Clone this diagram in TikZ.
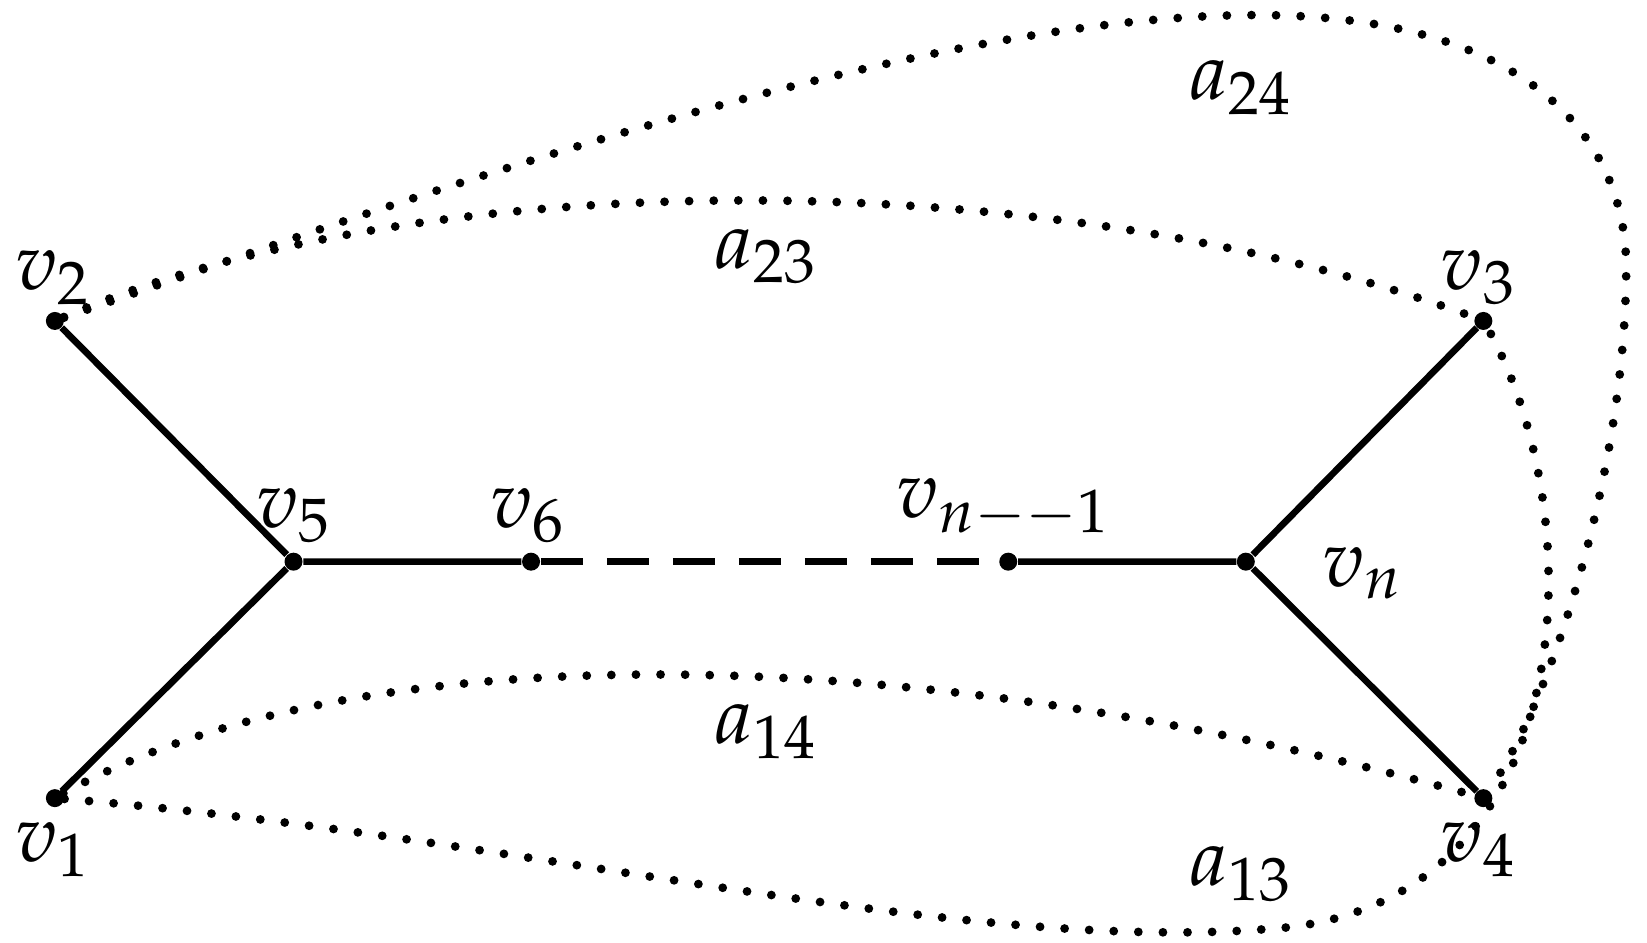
\documentclass[tikz,border=0pt]{standalone}
\usepackage{mathpazo}
\begin{document}
\begin{tikzpicture}[scale=1.0558,
  vtx/.style={circle,fill=black,inner sep=0pt,minimum size=0.18cm},
  edge/.style={line width=1.9pt},
  dotline/.style={line width=2.5pt,line cap=round,dash pattern=on 0pt off 7pt},
  lbl/.style={font=\fontsize{23}{27}\selectfont}]
\useasboundingbox (0,0) rectangle (15.6,8.93);
\node[vtx] (v2) at (0.52,5.89) {};
\node[vtx] (v1) at (0.52,1.37) {};
\node[vtx] (v5) at (2.78,3.61) {};
\node[vtx] (v6) at (5.03,3.61) {};
\node[vtx] (vm) at (9.55,3.61) {};
\node[vtx] (vn) at (11.80,3.61) {};
\node[vtx] (v3) at (14.05,5.89) {};
\node[vtx] (v4) at (14.05,1.37) {};
\draw[edge] (v2) -- (v5) -- (v1);
\draw[edge] (v5) -- (v6);
\draw[edge,dash pattern=on 0.42cm off 0.24cm] (v6) -- (vm);
\draw[edge] (vm) -- (vn);
\draw[edge] (v3) -- (vn) -- (v4);
\coordinate (t24) at (12.2,8.78);
\coordinate (r24) at (15.4,6.4);
\coordinate (b13) at (12.0,0.13);
\draw[dotline] (v2) .. controls (4,7.4) and (10,7.4) .. (v3);
\draw[dotline] (v2) .. controls (4,7.1) and (9,8.9) .. (t24) .. controls (14.5,8.7) and (15.4,7.6) .. (r24) .. controls (15.4,4.5) and (14.7,2.3) .. (v4);
\draw[dotline] (v1) .. controls (3.3,2.92) and (8.5,2.92) .. (v4);
\draw[dotline] (v1) .. controls (5,1.0) and (9,-0.1) .. (b13) .. controls (15,0.3) and (15.1,4) .. (v3);
\node[lbl] at (0.5,6.3) {$v_2$};
\node[lbl] at (0.5,0.88) {$v_1$};
\node[lbl] at (2.78,4.05) {$v_5$};
\node[lbl] at (5.0,4.05) {$v_6$};
\node[lbl] at (9.5,4.12) {$v_{n--1}$};
\node[lbl] at (12.9,3.5) {$v_n$};
\node[lbl] at (14.0,6.3) {$v_3$};
\node[lbl] at (14.0,0.88) {$v_4$};
\node[lbl] at (11.75,8.1) {$a_{24}$};
\node[lbl] at (7.25,6.5) {$a_{23}$};
\node[lbl] at (7.25,2.0) {$a_{14}$};
\node[lbl] at (11.75,0.65) {$a_{13}$};
\end{tikzpicture}
\end{document}
